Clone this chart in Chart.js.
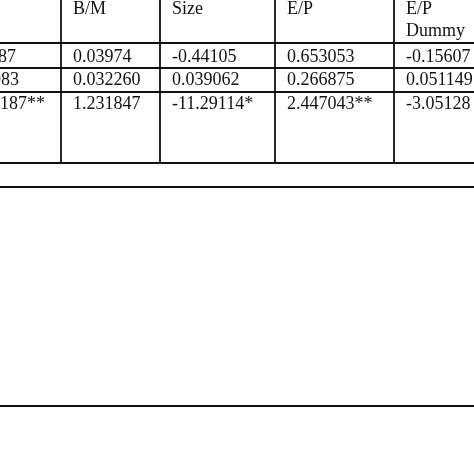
<!DOCTYPE html>
<html><head><meta charset="utf-8">
<script src="https://cdn.jsdelivr.net/npm/chart.js@4"></script>
<style>html,body{margin:0;padding:0;background:#fff}#w{width:474px;height:474px}</style>
</head><body><div id="w"><canvas id="c" width="474" height="474"></canvas></div>
<script>
const headers = [["B/M"],["Size"],["E/P"],["E/P","Dummy"]];
const firstCol = ["87","083","187**"];
const colBM = ["0.03974","0.032260","1.231847"];
const colSize = ["-0.44105","0.039062","-11.29114*"];
const colEP = ["0.653053","0.266875","2.447043**"];
const colDummy = ["-0.15607","0.051149","-3.05128"];

const tablePlugin = {
  id:'table',
  afterDraw(chart){
    const ctx = chart.ctx;
    ctx.save();
    ctx.fillStyle='#fff';ctx.fillRect(0,0,474,474);
    ctx.strokeStyle='#111';ctx.lineWidth=1.8;
    const hl=(y)=>{ctx.beginPath();ctx.moveTo(0,y);ctx.lineTo(474,y);ctx.stroke();};
    const vl=(x)=>{ctx.beginPath();ctx.moveTo(x,0);ctx.lineTo(x,163);ctx.stroke();};
    [43,68,92,163,187,406].forEach(hl);
    [61,160,275,394].forEach(vl);
    ctx.fillStyle='#111';ctx.font='18px "Liberation Serif"';ctx.textBaseline='middle';ctx.textAlign='left';
    const xs=[73,172,287,406];
    headers.forEach((h,i)=>h.forEach((t,j)=>ctx.fillText(t,xs[i],9+j*22)));
    const rowsY=[57,80,104];
    const fx=[-2,-8,0];
    firstCol.forEach((t,r)=>ctx.fillText(t,fx[r],rowsY[r]));
    [colBM,colSize,colEP,colDummy].forEach((col,i)=>col.forEach((t,r)=>ctx.fillText(t,xs[i],rowsY[r])));
    ctx.restore();
  }
};
new Chart(document.getElementById('c'),{
  type:'bar',
  data:{labels:headers.map(h=>h.join(' ')),datasets:[{data:[0,0,0,0]}]},
  options:{responsive:false,animation:false,events:[],plugins:{legend:{display:false},tooltip:{enabled:false}},
    scales:{x:{display:false},y:{display:false}}},
  plugins:[tablePlugin]
});
</script></body></html>
